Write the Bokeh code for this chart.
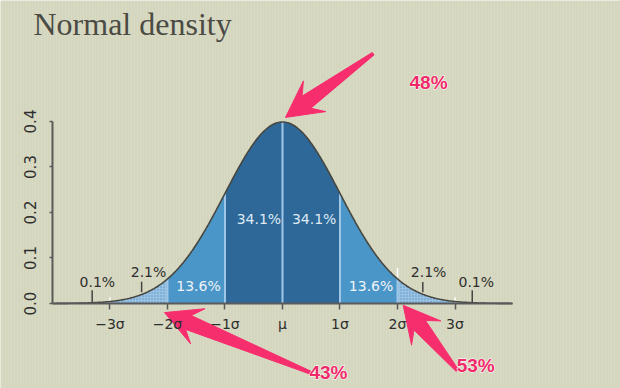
import numpy as np
from bokeh.plotting import figure
from bokeh.models import FixedTicker, Label
from bokeh.core.properties import value
from bokeh.embed import file_html
from bokeh.resources import INLINE

# ---------------- data ----------------
title_text = "Normal density"
x_tick_pos = [-3, -2, -1, 0, 1, 2, 3]
x_tick_labels = ["−3σ", "−2σ", "−1σ", "μ", "1σ", "2σ", "3σ"]
y_ticks = [0.0, 0.1, 0.2, 0.3, 0.4]

band_lo = [-4, -3, -2, -1, 1, 2, 3]
band_hi = [-3, -2, -1, 1, 2, 3, 4]
band_kind = ["tail", "light", "mid", "dark", "mid", "light", "tail"]

sep_x = [-2, -1, 0, 1, 2]

pct_text = ["0.1%", "2.1%", "13.6%", "34.1%", "34.1%", "13.6%", "2.1%", "0.1%"]
pct_x = [-3.22, -2.33, -1.46, -0.41, 0.55, 1.54, 2.54, 3.37]
pct_y = [0.048, 0.069, 0.038, 0.185, 0.185, 0.038, 0.069, 0.047]
pct_inside = [False, False, True, True, True, True, False, False]

lead_x = [-3.31, -2.45, 2.44, 3.30]
lead_y0 = [0.0, 0.025, 0.025, 0.0]
lead_y1 = [0.029, 0.048, 0.047, 0.029]

callout_text = ["48%", "43%", "53%"]
callout_x = [2.54, 0.80, 3.36]
callout_y = [0.486, -0.151, -0.136]

arrow_tail_x = [1.577, 0.487, 3.038]
arrow_tail_y = [0.549, -0.152, -0.147]
arrow_tip_x = [0.052, -2.052, 2.099]
arrow_tip_y = [0.409, -0.020, -0.004]

# ---------------- figure ----------------
W, H = 620, 388
XR = (-4.904, 5.878)
YR = (-0.1868, 0.6659)
SX = W / (XR[1] - XR[0])   # px per data unit in x
SY = H / (YR[1] - YR[0])   # px per data unit in y

BG = "#d5d6be"
p = figure(width=W, height=H, x_range=XR, y_range=YR,
           output_backend="svg", toolbar_location=None,
           min_border=0, min_border_left=0, min_border_right=0,
           min_border_top=0, min_border_bottom=0)
p.background_fill_color = BG
p.border_fill_color = BG
p.outline_line_color = None
p.grid.visible = False

# faint linen texture
p.quad(left=[XR[0]], right=[XR[1]], bottom=[YR[0]], top=[YR[1]],
       fill_color=None, line_color=None, hatch_pattern="vertical_line",
       hatch_color="white", hatch_alpha=0.10, hatch_scale=3, hatch_weight=1)


def pdf(x):
    return np.exp(-0.5 * np.asarray(x) ** 2) / np.sqrt(2 * np.pi)


styles = {
    "dark": dict(fill_color="#2d6898"),
    "mid": dict(fill_color="#4b96c8"),
    "light": dict(fill_color="#9ac2e2", hatch_pattern="dot",
                  hatch_color="#5a93c6", hatch_scale=3, hatch_weight=1),
    "tail": dict(fill_color="#b9d3ea"),
}
for lo, hi, kind in zip(band_lo, band_hi, band_kind):
    xs = np.linspace(lo, hi, 120)
    p.varea(x=xs, y1=np.zeros_like(xs), y2=pdf(xs), **styles[kind])

# separators
p.segment(x0=sep_x, y0=[0] * len(sep_x), x1=sep_x, y1=list(pdf(sep_x)),
          line_color="#9fc7e7", line_width=2)
# small white marks
p.segment(x0=[2, -3, 3], y0=[float(pdf(2)), 0.003, 0.003],
          x1=[2, -3, 3], y1=[float(pdf(2)) + 0.024, 0.014, 0.014],
          line_color="white", line_width=1.5)

# curve
xc = np.linspace(-4, 4, 400)
p.line(xc, pdf(xc), line_color="#474740", line_width=1.6)

# leader ticks for small percentages
p.segment(x0=lead_x, y0=lead_y0, x1=lead_x, y1=lead_y1,
          line_color="#444444", line_width=1.5)

for t, x, y, inside in zip(pct_text, pct_x, pct_y, pct_inside):
    col = ("#dfeaf5" if abs(x) < 1 else "#eef3f8") if inside else "#2e2e2e"
    p.text(x=[x], y=[y], text=[t], text_align="center", text_baseline="middle",
           text_font=value("DejaVu Sans"), text_font_size="14px", text_color=col)

# axes
xa = p.xaxis[0]
xa.fixed_location = 0
xa.bounds = (-4, 4)
xa.ticker = FixedTicker(ticks=x_tick_pos)
xa.major_label_overrides = {t: l for t, l in zip(x_tick_pos, x_tick_labels)}
xa.minor_tick_line_color = None
xa.major_tick_in = 0
xa.major_tick_out = 6
xa.major_label_standoff = 6
xa.axis_line_color = "#5a5a5a"
xa.axis_line_width = 2
xa.major_tick_line_color = "#5a5a5a"
xa.major_tick_line_width = 1.5
xa.major_label_text_font = "DejaVu Sans"
xa.major_label_text_font_size = "14px"
xa.major_label_text_color = "#2e2e2e"

ya = p.yaxis[0]
ya.fixed_location = -4
ya.bounds = (0, 0.4)
ya.ticker = FixedTicker(ticks=y_ticks)
ya.major_label_overrides = {t: f"{t:.1f}" for t in y_ticks}
ya.minor_tick_line_color = None
ya.major_tick_in = 0
ya.major_tick_out = 3
ya.major_label_standoff = 13
ya.major_label_orientation = "vertical"
ya.axis_line_color = "#5a5a5a"
ya.axis_line_width = 2
ya.major_tick_line_color = "#5a5a5a"
ya.major_tick_line_width = 1.5
ya.major_label_text_font = "DejaVu Sans"
ya.major_label_text_font_size = "15px"
ya.major_label_text_color = "#2e2e2e"


# pink arrows
def arrow_shape(x0, y0, x1, y1, head_len=36, head_w=19, neck_w=7.5, tail_w=1.5):
    X0, Y0, X1, Y1 = x0 * SX, y0 * SY, x1 * SX, y1 * SY
    d = np.array([X1 - X0, Y1 - Y0])
    u = d / np.hypot(*d)
    n = np.array([-u[1], u[0]])
    tip = np.array([X1, Y1])
    tail = np.array([X0, Y0])
    base = tip - u * head_len
    neck = tip - u * head_len * 0.72
    pts = [tail - n * tail_w, neck - n * neck_w, base - n * head_w, tip,
           base + n * head_w, neck + n * neck_w, tail + n * tail_w]
    return [pt[0] / SX for pt in pts], [pt[1] / SY for pt in pts]


axs, ays = [], []
for x0, y0, x1, y1 in zip(arrow_tail_x, arrow_tail_y, arrow_tip_x, arrow_tip_y):
    a, b = arrow_shape(x0, y0, x1, y1)
    axs.append(a)
    ays.append(b)
p.patches(axs, ays, fill_color="#f72e6e", line_color="#f72e6e", line_width=1,
          line_join="round")

# callouts: white halo underneath, pink text on top
p.text(x=callout_x, y=callout_y, text=callout_text, text_align="center",
       text_baseline="middle", text_font=value("Liberation Sans"),
       text_font_style="bold", text_font_size="19px", text_color="white",
       text_outline_color="white")
p.text(x=callout_x, y=callout_y, text=callout_text, text_align="center",
       text_baseline="middle", text_font=value("Liberation Sans"),
       text_font_style="bold", text_font_size="19px", text_color="#f02a68")

p.add_layout(Label(x=33, y=365, x_units="screen", y_units="screen",
                   text=title_text, text_font="Liberation Serif",
                   text_font_size="32px", text_color="#4a4b44",
                   text_baseline="alphabetic"))

open("out.html", "w").write(file_html(p, INLINE))
